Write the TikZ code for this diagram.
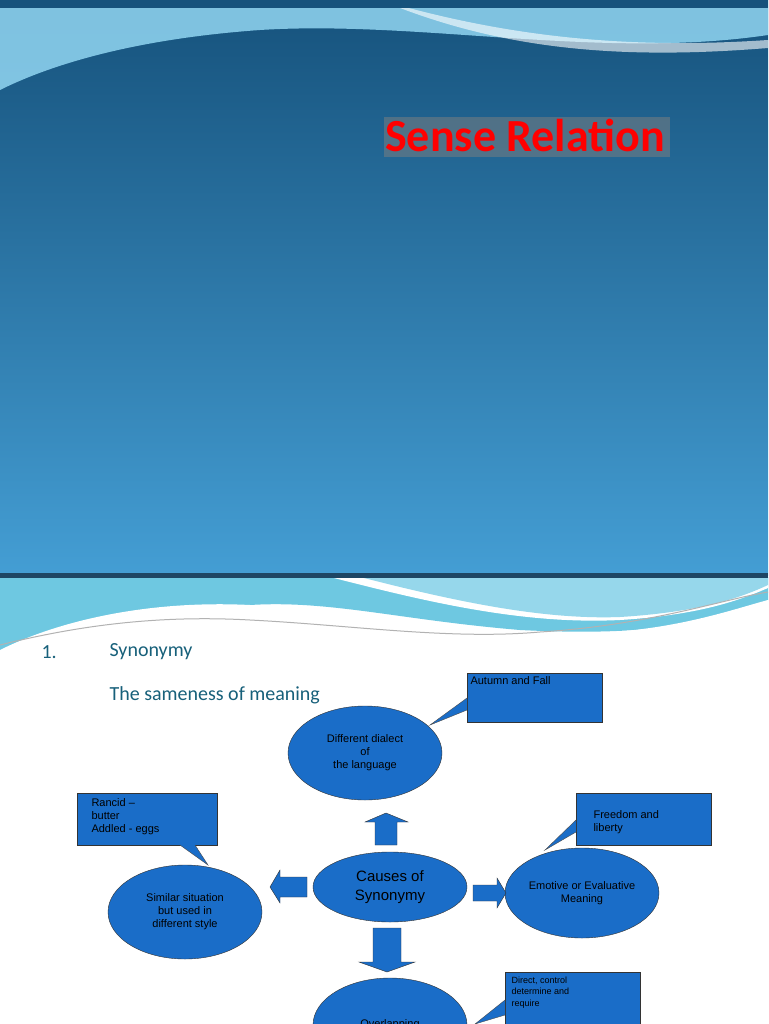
\documentclass[tikz,border=0pt]{standalone}
\usepackage{fontspec}
\setmainfont{Liberation Sans}
\newfontfamily\calfont{Carlito}
\usetikzlibrary{shapes.geometric,shadows}
\definecolor{sfill}{HTML}{1A6DC8}
\definecolor{tealc}{HTML}{17607A}
\definecolor{topdark}{RGB}{22,82,124}
\definecolor{botlight}{RGB}{68,158,212}
\definecolor{wavea}{RGB}{110,200,225}
\definecolor{waveb}{RGB}{150,215,235}
\definecolor{sepc}{RGB}{30,70,100}
\tikzset{
 ell/.style={ellipse,draw=black!80,fill=sfill,inner sep=0pt,align=center,font=\fontsize{11}{13}\selectfont},
 call/.style={anchor=north west,align=left,font=\fontsize{11}{13}\selectfont},
 blk/.style={fill=sfill,draw=black!80},
}
\begin{document}
\begin{tikzpicture}[x=1pt,y=-1pt]
\useasboundingbox (0,0) rectangle (768,1024);
% top slide
\shade[top color=topdark, bottom color=botlight] (0,0) rectangle (768,575);
\fill[cyan!40!white,opacity=0.8] (0,0) -- (768,0) -- (768,35) .. controls (600,60) and (420,20) .. (260,30) .. controls (120,40) and (40,70) .. (0,90) -- cycle;
\fill[white,opacity=0.6] (380,0) .. controls (500,35) and (620,50) .. (768,40) -- (768,48) .. controls (620,60) and (500,50) .. (380,0);
\fill[topdark] (0,0) rectangle (768,8);
\node[text=red,drop shadow={shadow xshift=2pt,shadow yshift=-2pt,opacity=0.5}] (title) at (525,135) {\calfont\bfseries\fontsize{46}{50}\selectfont Sense Relation};
% second slide
\fill[white] (0,575) rectangle (768,1024);
\fill[wavea] (0,577) -- (768,577) -- (768,600) .. controls (700,630) and (620,635) .. (520,630) .. controls (400,620) and (330,600) .. (250,605) .. controls (130,612) and (50,630) .. (0,660) -- cycle;
\fill[white] (330,577) .. controls (420,600) and (520,625) .. (620,620) .. controls (700,615) and (740,600) .. (768,588) -- (768,577) -- (370,577) -- cycle;
\fill[waveb] (360,577) .. controls (450,600) and (540,620) .. (620,617) .. controls (700,612) and (740,598) .. (768,585) -- (768,577) -- cycle;
\fill[white] (0,680) -- (0,650) .. controls (60,620) and (150,600) .. (250,605) .. controls (350,610) and (450,630) .. (560,633) .. controls (660,636) and (730,610) .. (768,600) -- (768,680) -- cycle;
\draw[gray!60,line width=1pt] (0,645) .. controls (80,625) and (160,615) .. (250,620) .. controls (350,625) and (450,640) .. (540,632) .. controls (650,625) and (720,600) .. (768,592);
\fill[sepc] (0,573) rectangle (768,578);
\node[anchor=west,text=tealc,font=\calfont\fontsize{20}{24}\selectfont] (n1) at (38,652) {1.};
\node[anchor=west,text=tealc,font=\calfont\fontsize{20}{24}\selectfont] (syn) at (106,652) {Synonymy};
\node[anchor=west,text=tealc,font=\calfont\fontsize{20}{24}\selectfont] (same) at (106,695) {The sameness of meaning};
% callouts
\fill[blk] (467,673) rectangle (602,722);
\draw[black!70,fill=sfill] (467,698) -- (430,725) -- (467,710);
\node[call] (c1) at (467,673) {Autumn and Fall};
\fill[blk] (77,793) rectangle (217,845);
\draw[black!70,fill=sfill] (180,845) -- (208,865) -- (195,845);
\node[call] (c2) at (88,795) {Rancid --\\butter\\Addled - eggs};
\fill[blk] (576,793) rectangle (711,845);
\draw[black!70,fill=sfill] (576,820) -- (545,850) -- (576,832);
\node[call] (c3) at (590,807) {Freedom and\\liberty};
\fill[blk] (505,972) rectangle (640,1030);
\draw[black!70,fill=sfill] (505,1000) -- (475,1024) -- (505,1015);
\node[call,font=\fontsize{9}{11.5}\selectfont] (c4) at (508,973) {Direct, control\\determine and\\require};
% ellipses
\node[ell,minimum width=154pt,minimum height=94pt] (dial) at (365,753) {Different dialect\\of\\the language};
\node[ell,minimum width=154pt,minimum height=70pt,font=\fontsize{15}{19}\selectfont] (cause) at (390,887) {Causes of\\Synonymy};
\node[ell,minimum width=154pt,minimum height=94pt] (sim) at (185,912) {Similar situation\\but used in\\different style};
\node[ell,minimum width=154pt,minimum height=90pt] (emo) at (582,893) {Emotive or Evaluative\\Meaning};
\node[ell,minimum width=154pt,minimum height=94pt] (over) at (390,1025) {Overlapping};
% block arrows
\draw[blk] (375,845) -- (375,822) -- (365,822) -- (386,813) -- (408,822) -- (397,822) -- (397,845) -- cycle;
\draw[blk] (307,877) -- (280,877) -- (280,870) -- (270,887) -- (280,903) -- (280,897) -- (307,897) -- cycle;
\draw[blk] (473,885) -- (497,885) -- (497,878) -- (506,893) -- (497,908) -- (497,901) -- (473,901) -- cycle;
\draw[blk] (373,928) -- (401,928) -- (401,962) -- (415,962) -- (387,972) -- (359,962) -- (373,962) -- cycle;
\end{tikzpicture}
\end{document}
